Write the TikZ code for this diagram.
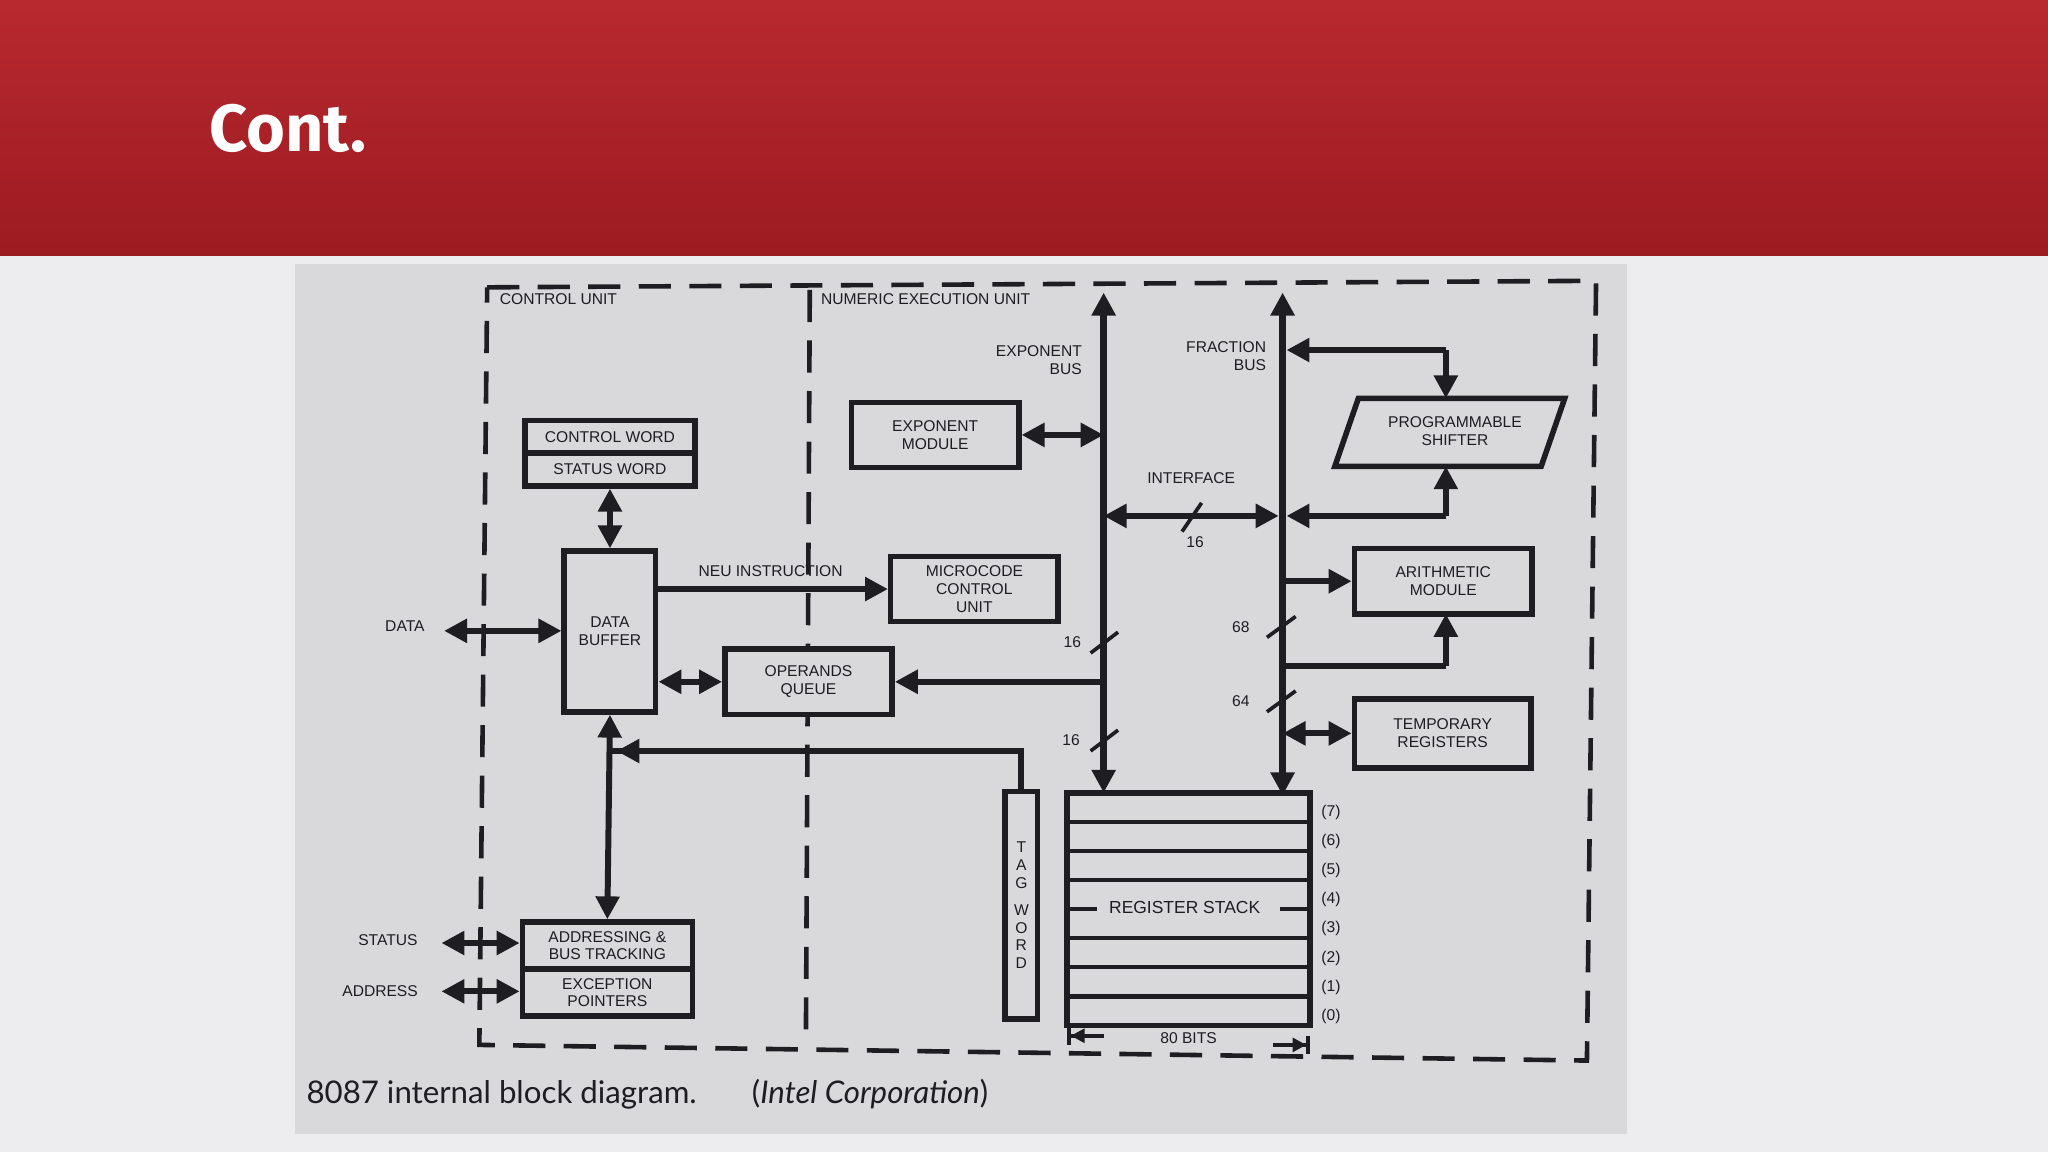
\documentclass[tikz,border=0pt]{standalone}
\usepackage{fontspec}
\setmainfont{Liberation Sans}
\newfontfamily\titlefont{Fira Sans}
\newfontfamily\capfont{Lato}
\usetikzlibrary{arrows.meta,shapes.geometric,calc}
\definecolor{ink}{HTML}{1E1E22}
\definecolor{paper}{HTML}{D9D9DC}
\definecolor{bandA}{HTML}{B8292F}
\definecolor{bandB}{HTML}{9C1B21}
\definecolor{pagebg}{HTML}{EDEDEF}
\tikzset{
  blk/.style={draw=ink,line width=1.2pt,fill=paper,inner sep=0pt,font=\fontsize{3.4}{3.9}\selectfont,text=ink,align=center},
  lbl/.style={font=\fontsize{3.4}{3.9}\selectfont,text=ink,align=center,inner sep=0pt},
  wire/.style={draw=ink,line width=1.3pt},
  bus/.style={draw=ink,line width=1.6pt},
  tip/.style={-{Triangle[length=5pt,width=5pt]}},
  dtip/.style={{Triangle[length=5pt,width=5pt]}-{Triangle[length=5pt,width=5pt]}},
  frame/.style={draw=ink,line width=1pt,dash pattern=on 7pt off 4pt},
}
\begin{document}
\begin{tikzpicture}[x=0.01cm,y=-0.01cm]
\useasboundingbox (0,0) rectangle (1568,882);
\fill[pagebg] (0,0) rectangle (1568,882);
\shade[top color=bandA,bottom color=bandB] (0,0) rectangle (1568,196);
\node[anchor=west,text=white,font=\titlefont\bfseries\fontsize{14.5}{18}\selectfont] (title) at (148,98) {Cont.};
\fill[paper] (226,202) rectangle (1246,868);
% frames
\draw[frame] (373,220) -- (1222,215) -- (1215,812) -- (367,800) -- cycle;
\draw[frame] (620,222) -- (617,800);
\node[lbl,anchor=west] (cu) at (382,229) {CONTROL UNIT};
\node[lbl,anchor=west] (neu) at (628,229) {NUMERIC EXECUTION UNIT};
% control side
\node[blk,minimum width=1.3cm,minimum height=0.25cm] (cw) at (467,334.5) {CONTROL WORD};
\node[blk,minimum width=1.3cm,minimum height=0.25cm] (sw) at (467,359.5) {STATUS WORD};
\node[blk,minimum width=0.7cm,minimum height=1.23cm] (db) at (467,483.5) {DATA\\BUFFER};
\draw[wire,dtip] (sw.south) -- (db.north);
\node[lbl] (datal) at (310,479) {DATA};
\coordinate (dataend) at (340,483);
\draw[wire,dtip] (dataend) -- (db.west|-dataend);
\node[blk,minimum width=1.28cm,minimum height=0.5cm] (mcu) at (746,451) {MICROCODE\\CONTROL\\UNIT};
\draw[wire,tip] (db.east|-mcu) -- (mcu.west);
\node[lbl] (neui) at (590,437) {NEU INSTRUCTION};
\node[blk,minimum width=1.28cm,minimum height=0.5cm] (oq) at (619,522) {OPERANDS\\QUEUE};
\draw[wire,dtip] (db.east|-oq) -- (oq.west);
\node[blk,minimum width=1.3cm,minimum height=0.36cm] (abt) at (465,724) {ADDRESSING \&\\BUS TRACKING};
\node[blk,minimum width=1.3cm,minimum height=0.36cm] (ep) at (465,760) {EXCEPTION\\POINTERS};
\draw[wire,dtip] (db.south) -- (abt.north);
\node[lbl] (stl) at (297,720) {STATUS};
\node[lbl] (adl) at (291,759) {ADDRESS};
\coordinate (stend) at (338,722);
\coordinate (adend) at (338,759);
\draw[wire,dtip] (stend) -- (abt.west|-stend);
\draw[wire,dtip] (adend) -- (ep.west|-adend);
% buses
\coordinate (ebT) at (845,224); \coordinate (ebB) at (845,607);
\coordinate (fbT) at (982,224); \coordinate (fbB) at (982,609);
\draw[bus,dtip] (ebT) -- (ebB);
\draw[bus,dtip] (fbT) -- (fbB);
\node[lbl,align=right,anchor=east] (ebl) at (829,276) {EXPONENT\\BUS};
\node[lbl,align=right,anchor=east] (fbl) at (970,273) {FRACTION\\BUS};
\node[blk,minimum width=1.28cm,minimum height=0.5cm] (em) at (716,333) {EXPONENT\\MODULE};
\draw[wire,dtip] (em.east) -- (em.east-|ebT);
\draw[wire,tip] (oq.east-|ebT) -- (oq.east);
% shifter
\draw[ink,line width=1.2pt,fill=paper] (1040,305) -- (1198,305) -- (1180,357) -- (1022,357) -- cycle;
\node[lbl] (ps) at (1114,330) {PROGRAMMABLE\\SHIFTER};
\coordinate (fs) at (982,268);
\draw[wire,{Triangle[length=5pt,width=5pt]}-] ($(fs)+(3,0)$) -- (1107,268);
\draw[wire,tip] (1107,268) -- (1107,305);
% interface
\coordinate (ifL) at (845,395); \coordinate (ifR) at (982,395);
\draw[wire,{Triangle[length=5pt,width=5pt]}-{Triangle[length=5pt,width=5pt]}] (ifL) -- ($(ifR)+(-3,0)$);
\draw[wire,{Triangle[length=5pt,width=5pt]}-] ($(ifR)+(3,0)$) -- (1107,395);
\draw[wire,tip] (1107,395) -- (1107,357);
\node[lbl] (ifl) at (912,366) {INTERFACE};
\draw[ink,line width=0.8pt] (905,407) -- (920,385);
\node[lbl] (n16a) at (915,415) {16};
% arithmetic
\node[blk,minimum width=1.36cm,minimum height=0.5cm] (am) at (1105,445) {ARITHMETIC\\MODULE};
\draw[wire,tip] (fbT|-am) -- (am.west);
\draw[wire] (982,510) -- (1107,510);
\draw[wire,tip] (1107,510) -- (1107,470);
\node[blk,minimum width=1.35cm,minimum height=0.53cm] (tr) at (1104.5,561.5) {TEMPORARY\\REGISTERS};
\draw[wire,dtip] (fbT|-tr) -- (tr.west);
% bus width marks
\draw[ink,line width=0.8pt] (835,500) -- (856,484);
\node[lbl] (n16b) at (821,492) {16};
\draw[ink,line width=0.8pt] (835,575) -- (856,559);
\node[lbl] (n16c) at (820,567) {16};
\draw[ink,line width=0.8pt] (970,488) -- (992,472);
\node[lbl] (n68) at (950,480) {68};
\draw[ink,line width=0.8pt] (970,545) -- (992,529);
\node[lbl] (n64) at (950,537) {64};
% tag word
\node[blk,minimum width=0.25cm,minimum height=1.74cm] (tw) at (782,693) {T\\A\\G\\[2pt]W\\O\\R\\D};
\draw[wire] (tw.north) -- (782,575) -- (467,575);
\draw[wire,{Triangle[length=5pt,width=5pt]}-] (472,575) -- (490,575);
% register stack
\node[blk,minimum width=1.86cm,minimum height=1.78cm] (rs) at (910,696) {};
\foreach \i in {1,...,7}{\draw[ink,line width=1pt] (817,{607+\i*22.25}) -- (1003,{607+\i*22.25});}
\fill[paper] (840,686) rectangle (980,705);
\node[lbl,font=\fontsize{3.8}{4.5}\selectfont] (rsl) at (907,695) {REGISTER STACK};
\foreach \i/\t in {0/7,1/6,2/5,3/4,4/3,5/2,6/1,7/0}{\node[lbl,anchor=west] at (1011,{622+\i*22.3}) {(\t)};}
\node[lbl] (bits) at (910,795) {80 BITS};
\draw[ink,line width=0.8pt,{Bar[width=4pt]Triangle[length=3pt,width=3pt]}-] (817,793) -- (845,793);
\draw[ink,line width=0.8pt,-{Triangle[length=3pt,width=3pt]Bar[width=4pt]}] (975,800) -- (1003,800);
% caption
\node[anchor=west,text=ink,font=\capfont\fontsize{6.8}{8}\selectfont,inner sep=0pt] (cap) at (234,838) {8087 internal block diagram.\hspace{12pt}(\textit{Intel Corporation})};
\end{tikzpicture}
\end{document}
